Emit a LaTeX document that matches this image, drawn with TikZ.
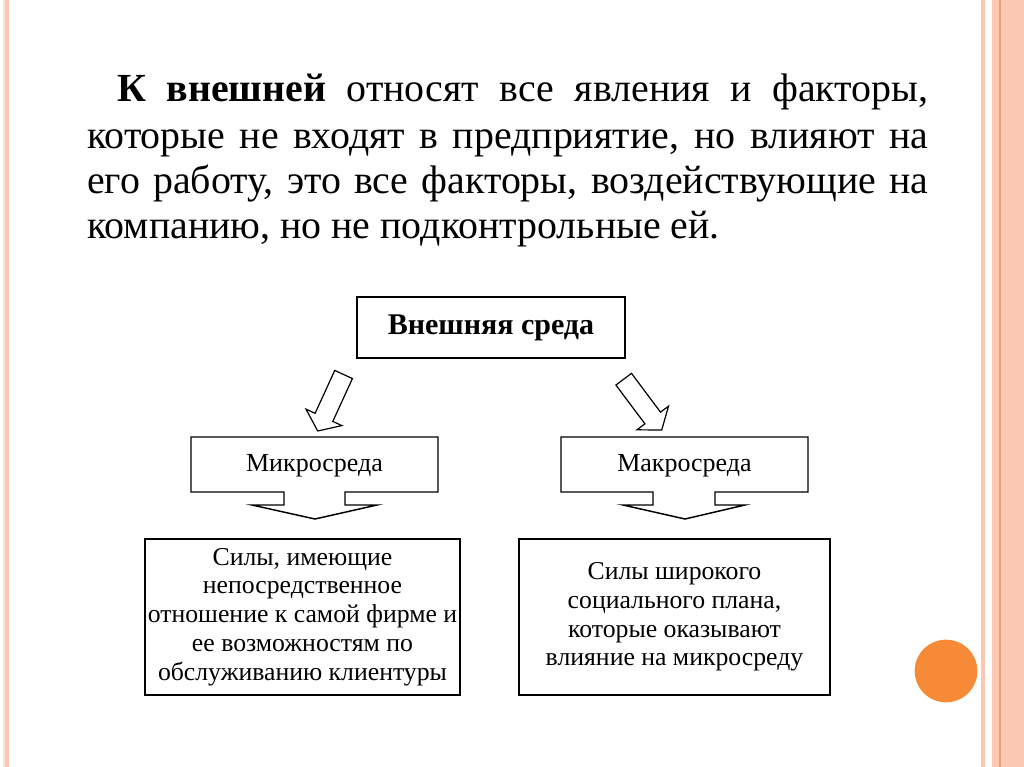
\documentclass[tikz,border=0pt]{standalone}
\usepackage{fontspec}
\setmainfont{Liberation Serif}
\usetikzlibrary{calc}
\definecolor{stripe}{HTML}{FBC8B4}
\definecolor{stripelight}{HTML}{FDE2D8}
\definecolor{stripedark}{HTML}{F2A07C}
\definecolor{dotorange}{HTML}{F68A37}
\tikzset{
  para/.style={inner sep=0pt, font=\fontsize{29.9pt}{34pt}\selectfont, text=black},
  mainbox/.style={draw=black, line width=1.5pt, fill=white, minimum width=201pt, minimum height=45.75pt, font=\bfseries\fontsize{22.5pt}{25pt}\selectfont},
  callout/.style={draw=black, line width=1.1pt, fill=white, line join=miter},
  calltext/.style={inner sep=0pt, font=\fontsize{19.5pt}{22pt}\selectfont},
  blockarr/.style={draw=black, line width=0.9pt, fill=white, line join=miter},
  forcebox/.style={draw=black, line width=1.5pt, fill=white, minimum height=117pt, align=center, inner sep=0pt, font=\fontsize{19.3pt}{21.6pt}\selectfont},
}
\newcommand\blockarrow[2]{%
  \coordinate (hb) at ($(#2)!11.25pt!(#1)$);
  \draw[blockarr] ($(#1)!7.3pt!90:(#2)$) -- ($(hb)!7.3pt!90:(#2)$) -- ($(hb)!14.8pt!90:(#2)$) -- (#2)
     -- ($(hb)!14.8pt!-90:(#2)$) -- ($(hb)!7.3pt!-90:(#2)$) -- ($(#1)!7.3pt!-90:(#2)$) -- cycle;}
\begin{document}
\begin{tikzpicture}[x=0.75pt,y=-0.75pt]
\useasboundingbox (0,0) rectangle (1024,767);
\fill[white] (0,0) rectangle (1024,767);
% slide stripes
\fill[stripelight] (3,0) rectangle (5,767);
\fill[stripe] (5,0) rectangle (9,767);
\fill[stripe] (981,0) rectangle (985,767);
\fill[stripe] (992,0) rectangle (1024,767);
\fill[stripedark] (999.3,0) rectangle (1000.7,767);
% paragraph
\node[para, anchor=base west] (l1) at (117,102) {\makebox[608.25pt][s]{\textbf{К внешней} относят все явления и факторы,}};
\node[para, anchor=base west] (l2) at (87,148) {\makebox[630.75pt][s]{которые не входят в предприятие, но влияют на}};
\node[para, anchor=base west] (l3) at (87,193) {\makebox[630.75pt][s]{его работу, это все факторы, воздействующие на}};
\node[para, anchor=base west] (l4) at (87,238) {компанию, но не подконтрольные ей.};
% top box
\node[mainbox] (ext) at (491,327.5) {Внешняя среда};
% callouts
\draw[callout] (191,437) -- (438,437) -- (438,492) -- (345,492) -- (345,505) -- (377,505) -- (315,519)
   -- (252,505) -- (284,505) -- (284,492) -- (191,492) -- cycle;
\node[calltext] (micro) at (314.5,466) {Микросреда};
\draw[callout] (561,437) -- (808,437) -- (808,492) -- (715,492) -- (715,505) -- (745,505) -- (685,519)
   -- (623,505) -- (653,505) -- (653,492) -- (561,492) -- cycle;
\node[calltext] (macro) at (684.5,466) {Макросреда};
% block arrows
\coordinate (t1) at (343.6,374.5);
\coordinate (p1) at (317.7,431);
\coordinate (t2) at (623.7,379.2);
\coordinate (p2) at (661.7,430);
\blockarrow{t1}{p1}
\blockarrow{t2}{p2}
% force boxes
\node[forcebox, minimum width=236.25pt] (fmicro) at (302.5,617) {Силы, имеющие\\непосредственное\\отношение к самой фирме и\\ее возможностям по\\обслуживанию клиентуры};
\node[forcebox, minimum width=233.25pt] (fmacro) at (674.5,617) {Силы широкого\\социального плана,\\которые оказывают\\влияние на микросреду};
% decoration dot
\fill[dotorange] (946,671) circle[radius=23.5pt];
\end{tikzpicture}
\end{document}
